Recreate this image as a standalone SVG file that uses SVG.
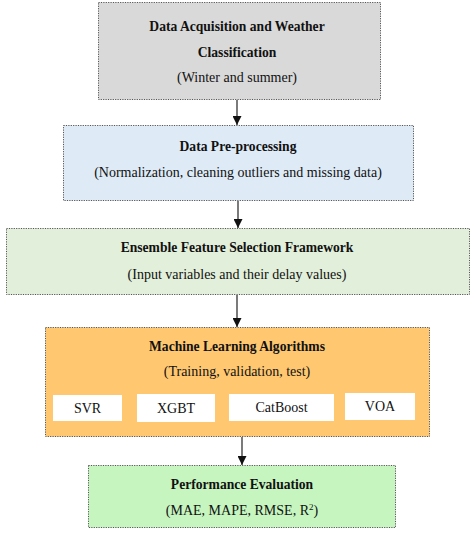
<svg xmlns="http://www.w3.org/2000/svg" width="474" height="533" viewBox="0 0 474 533">
<defs>
<style>
.box{stroke:#555;stroke-width:1;stroke-dasharray:1.2 1.2}
.t{font-family:"Palatino Linotype","Book Antiqua","Liberation Serif",serif;font-size:14px;fill:#111;text-anchor:middle}
.b{font-weight:bold;font-size:13.6px}
.w{fill:#fff}
.c{stroke:#222;stroke-width:1.2;fill:none}
</style>
<marker id="arr" markerWidth="9" markerHeight="9" refX="9" refY="4.5" orient="auto" markerUnits="userSpaceOnUse" viewBox="0 0 9 9">
<path d="M0,0 L9,4.5 L0,9 Z" fill="#111"/>
</marker>
</defs>
<rect width="474" height="533" fill="#fff"/>
<g id="n1">
<rect class="box" x="98.5" y="2.5" width="282" height="97" fill="#d9d9d9"/>
<text class="t b" x="237" y="31">Data Acquisition and Weather</text>
<text class="t b" x="237" y="57">Classification</text>
<text class="t" x="237" y="82">(Winter and summer)</text>
</g>
<g id="n2">
<rect class="box" x="63.5" y="125.5" width="350" height="75" fill="#deebf7"/>
<text class="t b" x="238" y="151">Data Pre-processing</text>
<text class="t" x="238" y="177">(Normalization, cleaning outliers and missing data)</text>
</g>
<g id="n3">
<rect class="box" x="6.5" y="228.5" width="463" height="66" fill="#e2efda"/>
<text class="t b" x="237" y="252">Ensemble Feature Selection Framework</text>
<text class="t" x="237" y="279">(Input variables and their delay values)</text>
</g>
<g id="n4">
<rect class="box" x="45.5" y="327.5" width="384" height="109" fill="#ffc870"/>
<text class="t b" x="237" y="351">Machine Learning Algorithms</text>
<text class="t" x="237" y="376">(Training, validation, test)</text>
<g id="svr"><rect class="w" x="53" y="395" width="69" height="26"/><text class="t" x="87.5" y="412.5">SVR</text></g>
<g id="xgbt"><rect class="w" x="137" y="394" width="78" height="28"/><text class="t" x="176" y="412.5">XGBT</text></g>
<g id="catboost"><rect class="w" x="229" y="394" width="105" height="27"/><text class="t" x="281.5" y="411.5">CatBoost</text></g>
<g id="voa"><rect class="w" x="345" y="393" width="70" height="27"/><text class="t" x="380" y="410.5">VOA</text></g>
</g>
<g id="n5">
<rect class="box" x="88.5" y="465.5" width="307" height="62" fill="#c6f5c0"/>
<text class="t b" x="242" y="489">Performance Evaluation</text>
<text class="t" x="242" y="515">(MAE, MAPE, RMSE, R<tspan font-size="9" dy="-5">2</tspan><tspan dy="5">)</tspan></text>
</g>
<g id="connectors">
<line class="c" x1="237" y1="100" x2="237" y2="125" marker-end="url(#arr)"/>
<line class="c" x1="238" y1="201" x2="238" y2="228" marker-end="url(#arr)"/>
<line class="c" x1="237" y1="295" x2="237" y2="327" marker-end="url(#arr)"/>
<line class="c" x1="242" y1="437" x2="242" y2="465" marker-end="url(#arr)"/>
</g>
</svg>
